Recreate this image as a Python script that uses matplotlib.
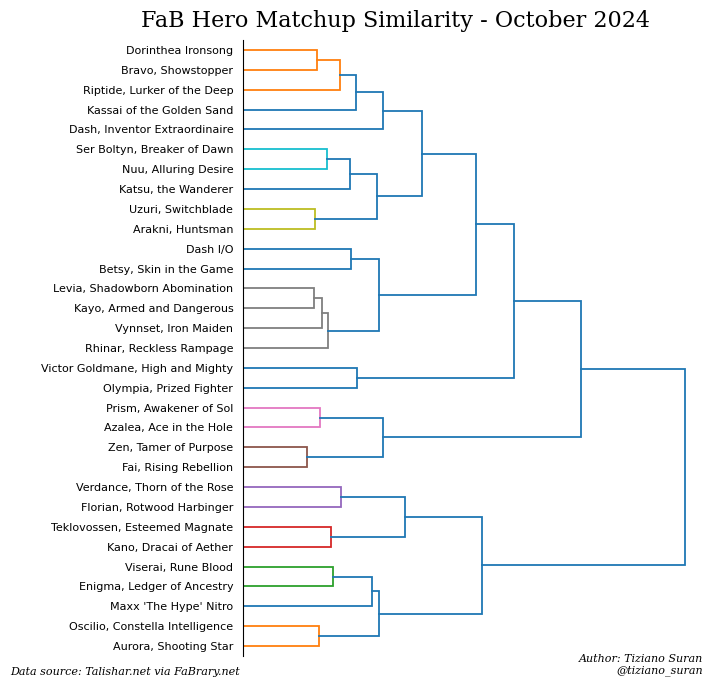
import matplotlib

matplotlib.use("Agg")
import matplotlib.pyplot as plt

# leaves, top to bottom
heroes = [
    "Dorinthea Ironsong", "Bravo, Showstopper", "Riptide, Lurker of the Deep",
    "Kassai of the Golden Sand", "Dash, Inventor Extraordinaire",
    "Ser Boltyn, Breaker of Dawn", "Nuu, Alluring Desire", "Katsu, the Wanderer",
    "Uzuri, Switchblade", "Arakni, Huntsman", "Dash I/O", "Betsy, Skin in the Game",
    "Levia, Shadowborn Abomination", "Kayo, Armed and Dangerous", "Vynnset, Iron Maiden",
    "Rhinar, Reckless Rampage", "Victor Goldmane, High and Mighty",
    "Olympia, Prized Fighter", "Prism, Awakener of Sol", "Azalea, Ace in the Hole",
    "Zen, Tamer of Purpose", "Fai, Rising Rebellion", "Verdance, Thorn of the Rose",
    "Florian, Rotwood Harbinger", "Teklovossen, Esteemed Magnate",
    "Kano, Dracai of Aether", "Viserai, Rune Blood", "Enigma, Ledger of Ancestry",
    "Maxx 'The Hype' Nitro", "Oscilio, Constella Intelligence", "Aurora, Shooting Star",
]

# merges: ids < 31 are leaves, merge k gets id 31 + k
merge_a = [0, 31, 32, 33, 5, 35, 8, 36, 34, 10, 12, 41, 42, 40, 39, 16, 45, 18, 20, 48,
           47, 22, 24, 52, 26, 55, 29, 56, 54, 51]
merge_b = [1, 2, 3, 4, 6, 7, 9, 37, 38, 11, 13, 14, 15, 43, 44, 17, 46, 19, 21, 49,
           50, 23, 25, 53, 27, 28, 30, 57, 58, 59]
merge_dist = [0.743, 0.97, 1.13, 1.40, 0.84, 1.07, 0.72, 1.337, 1.79, 1.08, 0.707, 0.79,
              0.85, 1.357, 2.33, 1.14, 2.71, 0.77, 0.643, 1.40, 3.377, 0.98, 0.88, 1.617,
              0.90, 1.29, 0.76, 1.36, 2.39, 4.42]
merge_color = ["C1", "C1", "C0", "C0", "C9", "C0", "C8", "C0", "C0", "C0", "C7", "C7",
               "C7", "C0", "C0", "C0", "C0", "C6", "C5", "C0", "C0", "C4", "C3", "C0",
               "C2", "C0", "C1", "C0", "C0", "C0"]

n = len(heroes)
ypos = {i: 10 * (n - 1 - i) + 5 for i in range(n)}
hpos = {i: 0.0 for i in range(n)}

fig = plt.figure(figsize=(7.17, 6.86), dpi=100)
ax = fig.add_axes([243 / 717, 30 / 686, 464 / 717, 616 / 686])

for k, (a, b, d, c) in enumerate(zip(merge_a, merge_b, merge_dist, merge_color)):
    node = n + k
    ax.plot([hpos[a], d, d, hpos[b]], [ypos[a], ypos[a], ypos[b], ypos[b]],
            color=c, lw=1.3, solid_joinstyle="miter")
    ypos[node] = (ypos[a] + ypos[b]) / 2
    hpos[node] = d

ax.set_xlim(0, max(merge_dist) * 1.05)
ax.set_ylim(0, 10 * n)
ax.set_yticks([ypos[i] for i in range(n)], heroes, fontsize=8)
ax.set_xticks([])
ax.tick_params(axis="y", length=0, pad=7)
ax.spines[["top", "right", "bottom"]].set_visible(False)

fig.text(395 / 717, 1 - 21 / 686, "FaB Hero Matchup Similarity - October 2024",
         family="DejaVu Serif", fontsize=16, ha="center", va="center")
fig.text(10 / 717, 1 - 672 / 686, "Data source: Talishar.net via FaBrary.net",
         family="DejaVu Serif", style="italic", fontsize=8, ha="left", va="center")
fig.text(703 / 717, 1 - 665 / 686, "Author: Tiziano Suran\n@tiziano_suran",
         family="DejaVu Serif", style="italic", fontsize=8, ha="right", va="center")

fig.savefig("out.png", dpi=100, facecolor="white")
